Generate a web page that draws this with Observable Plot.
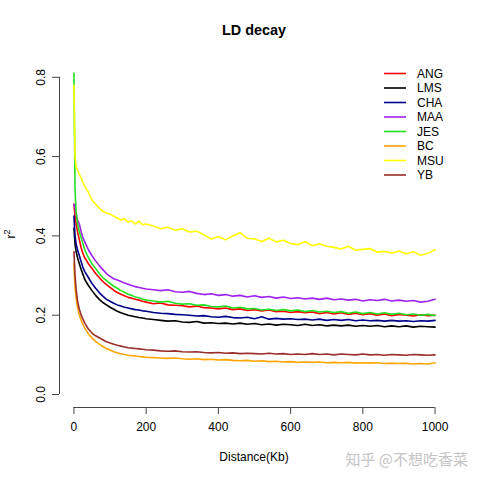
<!DOCTYPE html>
<html>
<head>
<meta charset="utf-8">
<script src="https://cdn.jsdelivr.net/npm/d3@7"></script>
<script src="https://cdn.jsdelivr.net/npm/@observablehq/plot@0.6"></script>
<style>
  html, body { margin: 0; padding: 0; background: #fff; }
</style>
</head>
<body>
<div id="chart"></div>
<script>
const dist = [0,3,6,10,15,20,25,30,
  40,50,60,70,80,90,100,110,120,130,140,150,160,170,180,190,200,
  220,240,260,280,300,320,340,360,380,400,420,440,460,480,500,520,540,560,580,600,
  620,640,660,680,700,720,740,760,780,800,820,840,860,880,900,920,940,960,980,1000];

const ANG = [0.48,0.45,0.43,0.41,0.39,0.37,0.355,0.345,
  0.33,0.318,0.305,0.295,0.285,0.277,0.27,0.263,0.257,0.253,0.249,0.245,0.243,0.24,0.238,0.235,0.233,
  0.229,0.231,0.226,0.225,0.224,0.221,0.223,0.219,0.218,0.216,0.218,0.214,0.216,0.212,0.214,0.211,0.213,0.209,0.21,0.207,
  0.209,0.206,0.208,0.204,0.207,0.203,0.206,0.202,0.205,0.201,0.204,0.2,0.203,0.199,0.202,0.2,0.198,0.201,0.199,0.2];

const LMS = [0.42,0.38,0.36,0.345,0.33,0.315,0.303,0.29,
  0.275,0.262,0.25,0.24,0.232,0.226,0.22,0.215,0.21,0.206,0.203,0.2,0.198,0.196,0.194,0.193,0.191,
  0.189,0.187,0.185,0.186,0.183,0.182,0.184,0.18,0.181,0.179,0.18,0.178,0.18,0.177,0.179,0.176,0.178,0.175,0.177,0.176,
  0.174,0.177,0.174,0.176,0.173,0.175,0.173,0.175,0.172,0.174,0.172,0.174,0.171,0.173,0.171,0.173,0.17,0.172,0.171,0.17];

const CHA = [0.45,0.40,0.38,0.365,0.35,0.335,0.32,0.31,
  0.295,0.28,0.268,0.257,0.248,0.24,0.235,0.23,0.226,0.223,0.22,0.218,0.216,0.214,0.213,0.211,0.21,
  0.207,0.205,0.204,0.202,0.201,0.2,0.198,0.199,0.196,0.195,0.197,0.194,0.193,0.195,0.191,0.196,0.19,0.192,0.19,0.191,
  0.189,0.19,0.188,0.19,0.187,0.189,0.187,0.189,0.186,0.188,0.186,0.187,0.185,0.187,0.185,0.186,0.184,0.186,0.185,0.187];

const MAA = [0.48,0.47,0.455,0.44,0.43,0.41,0.395,0.385,
  0.365,0.35,0.337,0.325,0.315,0.305,0.298,0.292,0.289,0.285,0.281,0.278,0.275,0.272,0.27,0.268,0.266,
  0.264,0.262,0.264,0.259,0.258,0.26,0.255,0.252,0.254,0.25,0.252,0.248,0.25,0.246,0.249,0.245,0.247,0.243,0.246,0.242,
  0.244,0.241,0.243,0.24,0.243,0.239,0.241,0.238,0.24,0.236,0.239,0.237,0.24,0.236,0.238,0.235,0.237,0.233,0.235,0.24];

const JES = [0.81,0.52,0.46,0.43,0.41,0.395,0.38,0.365,
  0.345,0.33,0.318,0.305,0.295,0.287,0.28,0.273,0.268,0.262,0.258,0.253,0.25,0.246,0.244,0.241,0.238,
  0.236,0.233,0.235,0.23,0.228,0.229,0.225,0.226,0.222,0.221,0.223,0.218,0.22,0.216,0.217,0.213,0.215,0.212,0.214,0.211,
  0.213,0.209,0.212,0.208,0.21,0.207,0.209,0.205,0.208,0.204,0.207,0.203,0.206,0.202,0.205,0.201,0.203,0.2,0.202,0.199];

const BC = [0.33,0.27,0.245,0.22,0.2,0.187,0.176,0.168,
  0.153,0.142,0.134,0.127,0.121,0.116,0.112,0.108,0.105,0.103,0.101,0.099,0.098,0.097,0.096,0.095,0.094,
  0.093,0.092,0.091,0.092,0.09,0.089,0.09,0.088,0.089,0.087,0.088,0.086,0.085,0.086,0.084,0.085,0.083,0.084,0.082,0.083,
  0.081,0.082,0.081,0.082,0.08,0.081,0.08,0.081,0.079,0.08,0.079,0.08,0.078,0.079,0.078,0.079,0.077,0.078,0.077,0.08];

const MSU = [0.78,0.60,0.575,0.565,0.555,0.545,0.535,0.525,
  0.51,0.49,0.48,0.47,0.462,0.458,0.455,0.45,0.445,0.44,0.443,0.435,0.438,0.43,0.437,0.428,0.43,
  0.425,0.418,0.422,0.414,0.418,0.41,0.412,0.403,0.392,0.398,0.39,0.4,0.408,0.394,0.392,0.386,0.394,0.385,0.389,0.381,
  0.378,0.386,0.375,0.38,0.374,0.371,0.367,0.374,0.364,0.366,0.368,0.359,0.361,0.357,0.362,0.355,0.36,0.351,0.356,0.365];

const YB = [0.36,0.30,0.265,0.235,0.215,0.2,0.19,0.18,
  0.165,0.155,0.148,0.143,0.138,0.133,0.13,0.127,0.124,0.122,0.12,0.118,0.117,0.116,0.115,0.114,0.113,
  0.112,0.11,0.109,0.11,0.108,0.107,0.108,0.106,0.105,0.106,0.104,0.105,0.103,0.104,0.103,0.102,0.104,0.102,0.103,0.101,
  0.102,0.101,0.103,0.101,0.102,0.1,0.102,0.101,0.1,0.102,0.1,0.101,0.099,0.101,0.1,0.099,0.101,0.1,0.099,0.1];

const seriesNames = ["ANG","LMS","CHA","MAA","JES","BC","MSU","YB"];
const seriesValues = [ANG, LMS, CHA, MAA, JES, BC, MSU, YB];
const seriesColors = ["#ff0000","#000000","#00008b","#a020f0","#22e022","#ffa500","#ffff00","#9b2d2d"];

const xTicks = [0,200,400,600,800,1000];
const yTicks = [0.0,0.2,0.4,0.6,0.8];

const titleText = "LD decay";
const xLabel = "Distance(Kb)";
const watermark = "知乎 @不想吃香菜";

const data = seriesNames.flatMap((name, i) =>
  seriesValues[i].map((v, j) => ({series: name, dist: dist[j], r2: v})));

const xDomain = [-40, 1040];
const yDomain = [-0.0328, 0.8424];
const axisColor = "#444";

const chart = Plot.plot({
  width: 480,
  height: 480,
  marginTop: 60,
  marginBottom: 73,
  marginLeft: 59,
  marginRight: 31,
  style: {fontFamily: '"Liberation Sans", Arial, sans-serif', fontSize: "12px", background: "#fff", color: "#000"},
  x: {domain: xDomain},
  y: {domain: yDomain},
  color: {domain: seriesNames, range: seriesColors},
  marks: [
    Plot.line(data, {x: "dist", y: "r2", z: "series", stroke: "series", strokeWidth: 1.6, strokeLinejoin: "round"}),
    Plot.ruleY([yDomain[0]], {x1: xTicks[0], x2: xTicks[xTicks.length - 1], stroke: axisColor}),
    Plot.ruleX([xDomain[0]], {y1: yTicks[0], y2: yTicks[yTicks.length - 1], stroke: axisColor}),
    Plot.axisX(xTicks, {tickSize: 7, tickPadding: 8, label: null, stroke: axisColor, tickFormat: d => String(d)}),
    Plot.axisY(yTicks, {tickSize: 7, tickPadding: 8, label: null, stroke: axisColor, tickRotate: -90, tickFormat: d3.format(".1f")})
  ]
});

document.getElementById("chart").appendChild(chart);

const svg = d3.select(chart);
svg.append("text")
  .attr("x", 254).attr("y", 35)
  .attr("text-anchor", "middle")
  .attr("font-weight", "bold")
  .attr("font-size", 14.4)
  .attr("font-family", '"Liberation Sans", Arial, sans-serif')
  .text(titleText);

svg.append("text")
  .attr("x", 254).attr("y", 461)
  .attr("text-anchor", "middle")
  .attr("font-size", 12)
  .attr("font-family", '"Liberation Sans", Arial, sans-serif')
  .text(xLabel);

const yl = svg.append("text")
  .attr("transform", "translate(15,234) rotate(-90)")
  .attr("text-anchor", "middle")
  .attr("font-size", 12)
  .attr("font-family", '"Liberation Sans", Arial, sans-serif');
yl.append("tspan").text("r");
yl.append("tspan").attr("font-size", 9).attr("dy", -5).text("2");

const leg = svg.append("g").attr("font-family", '"Liberation Sans", Arial, sans-serif').attr("font-size", 12).attr("text-anchor", "start");
seriesNames.forEach((name, i) => {
  const yy = 73.5 + i * 14.5;
  leg.append("line").attr("x1", 384).attr("x2", 406).attr("y1", yy).attr("y2", yy)
    .attr("stroke", seriesColors[i]).attr("stroke-width", 1.6);
  leg.append("text").attr("x", 417).attr("y", yy).attr("dy", "0.35em").attr("text-anchor", "start").text(name);
});

svg.append("text")
  .attr("x", 468).attr("y", 465)
  .attr("text-anchor", "end")
  .attr("font-size", 15)
  .attr("font-family", '"Noto Sans CJK SC", sans-serif')
  .attr("fill", "#c4c4c4")
  .text(watermark);
</script>
</body>
</html>
